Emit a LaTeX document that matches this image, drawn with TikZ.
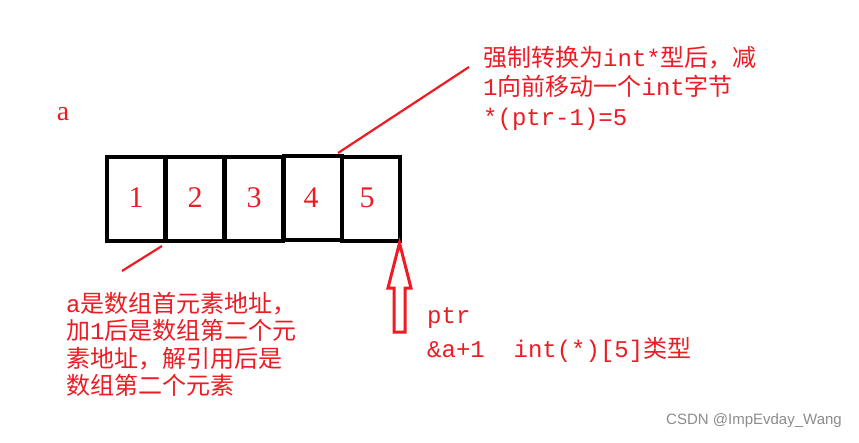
\documentclass[tikz,border=0pt]{standalone}
\usepackage{fontspec}
\setmainfont{Liberation Serif}
\newfontfamily\cjk{Noto Sans CJK SC}
\newfontfamily\mono{Liberation Mono}
\newfontfamily\wm{Liberation Sans}
\definecolor{txtred}{RGB}{237,28,36}
\begin{document}
\begin{tikzpicture}[x=1pt,y=-1pt,
  cell/.style={draw=black,line width=4pt,minimum width=58pt,minimum height=84pt,inner sep=0pt},
  num/.style={text=txtred,font=\fontsize{30}{30}\selectfont,inner sep=0pt},
  note/.style={text=txtred,align=left,anchor=north west,inner sep=0pt},
  redline/.style={draw=txtred,line width=2.2pt},
  hollowarrow/.style={draw=txtred,line width=3pt,line join=miter}]
\useasboundingbox (0,0) rectangle (859,442);
\fill[white] (0,0) rectangle (859,442);
% cells
\node[cell] (c1) at (136,199) {};
\node[cell] (c2) at (195,199) {};
\node[cell] (c3) at (254,199) {};
\node[cell] (c4) at (313,198) {};
\node[cell] (c5) at (371,198.5) {};
\node[num] (n1) at (136,198) {1};
\node[num] (n2) at (195,198) {2};
\node[num] (n3) at (254,198) {3};
\node[num] (n4) at (311,198) {4};
\node[num] (n5) at (367,198) {5};
% label a
\node[text=txtred,font=\fontsize{28}{28}\selectfont,inner sep=0pt] (la) at (63,114) {a};
% top-right note
\node[note,font=\fontsize{24}{29.5}\selectfont] (tn) at (483,46)
 {{\cjk 强制转换为}{\mono int*}{\cjk 型后，减}\\
  {\mono 1}{\cjk 向前移动一个}{\mono int}{\cjk 字节}\\
  {\mono *(ptr-1)=5}};
% bottom-left note
\node[note,font=\fontsize{24}{27.5}\selectfont] (bn) at (66,292)
 {{\mono a}{\cjk 是数组首元素地址，}\\
  {\cjk 加}{\mono 1}{\cjk 后是数组第二个元}\\
  {\cjk 素地址，解引用后是}\\
  {\cjk 数组第二个元素}};
% ptr note
\node[note,font=\fontsize{24}{34}\selectfont] (pn) at (427,307)
 {{\mono ptr}\\
  {\mono \&a+1\ \ int(*)[5]}{\cjk 类型}};
% connector lines
\coordinate (l1a) at (122,271);
\coordinate (l1b) at (162,246);
\draw[redline] (l1a) -- (l1b);
\coordinate (l2a) at (338,153);
\coordinate (l2b) at (469,67);
\draw[redline] (l2a) -- (l2b);
% hollow arrow
\coordinate (tip) at (399.5,243);
\draw[hollowarrow] (tip) -- (411,288) -- (405,288) -- (405,332) -- (394,332) -- (394,288) -- (388,288) -- cycle;
% watermark
\node[text=black!45,font=\wm\fontsize{15}{15}\selectfont,anchor=east,inner sep=0pt] (wm) at (842,421) {CSDN @ImpEvday\_Wang};
\end{tikzpicture}
\end{document}
